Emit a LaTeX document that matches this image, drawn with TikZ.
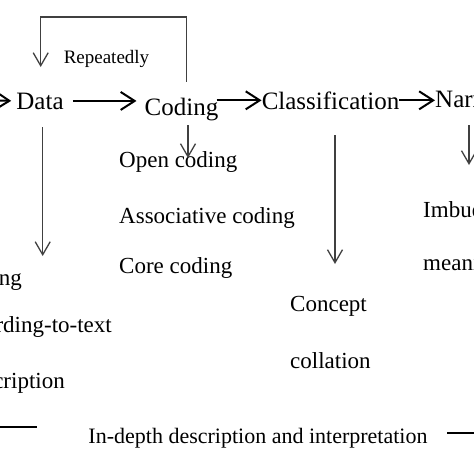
\documentclass[tikz,border=0pt]{standalone}
\usepackage{fontspec}
\setmainfont{Liberation Serif}
\usetikzlibrary{arrows.meta}
\tikzset{
  main/.style={inner sep=0pt, font=\fontsize{25}{30}\selectfont},
  sub/.style={inner sep=0pt, font=\fontsize{23}{28}\selectfont},
  flow/.style={-{Straight Barb[length=14pt,width=18pt]}, line width=2pt},
  down/.style={-{Straight Barb[length=13pt,width=15pt]}, line width=1.3pt, black!75},
}
\begin{document}
\begin{tikzpicture}[x=1pt, y=-1pt]
    \useasboundingbox (0,0) rectangle (474,474);
    \clip (0,0) rectangle (474,474);

    % main stages
    \node[main, anchor=base] (data) at (40,109) {Data};
    \node[main, anchor=base] (coding) at (181.5,115) {Coding};
    \node[main, anchor=base] (class) at (330.5,109) {Classification};
    \node[main, anchor=base west] (narr) at (435,107) {Narration};
    \node[inner sep=0pt, font=\fontsize{19}{22}\selectfont, anchor=base] (rep) at (106.5,63) {Repeatedly};

    % sub items
    \node[sub, anchor=base east] (rec) at (22,285) {Recording};
    \node[sub, anchor=base east] (rectext) at (112,332) {Recording-to-text};
    \node[sub, anchor=base east] (desc) at (65,388) {Description};
    \node[sub, anchor=base west] (open) at (119,167) {Open coding};
    \node[sub, anchor=base west] (assoc) at (119,223) {Associative coding};
    \node[sub, anchor=base west] (core) at (119,273) {Core coding};
    \node[sub, anchor=base west] (concept) at (290,311) {Concept};
    \node[sub, anchor=base west] (coll) at (290,368) {collation};
    \node[sub, anchor=base west] (imbue) at (423,217) {Imbued with};
    \node[sub, anchor=base west] (mean) at (423,270) {meaning};
    \node[sub, font=\fontsize{22}{26}\selectfont, anchor=base] (depth) at (258,443) {In-depth description and interpretation};

    \coordinate (in) at (-30,100);
    \coordinate (loopR) at (186.7,17);
    \coordinate (loopL) at (40.7,17);
    \coordinate (loopEnd) at (40.7,67);
    \coordinate (dataDown) at (42.7,256);
    \coordinate (codeDown) at (188,158);
    \coordinate (classDown) at (335,264);
    \coordinate (narrDown) at (469,165);
    \coordinate (leftA) at (-10,427);
    \coordinate (rightA) at (447,433);

    % horizontal flow
    \draw[flow, shorten >=5pt] (in) -- (data.west);
    \draw[flow, shorten <=9pt, shorten >=8pt] (data.east) -- (data.east -| coding.west);
    \draw[flow, shorten <=-2pt] (coding.east |- class.west) -- (class.west);
    \draw[flow] (class.east) -- (narr.west |- class.east);

    % loop back
    \draw[down, shorten <=15.5pt] (coding.north -| loopR) -- (loopR) -- (loopL) -- (loopEnd);

    % down arrows
    \draw[down, shorten <=18pt] (data.south -| dataDown) -- (dataDown);
    \draw[down, shorten <=4.5pt] (coding.south -| codeDown) -- (codeDown);
    \draw[down, shorten <=26pt] (class.south -| classDown) -- (classDown);
    \draw[down, shorten <=18pt] (narr.south -| narrDown) -- (narrDown);

    % bottom rule
    \draw[line width=1.5pt] (leftA) -- ++(47,0);
    \draw[line width=1.5pt] (rightA) -- ++(40,0);
\end{tikzpicture}
\end{document}
